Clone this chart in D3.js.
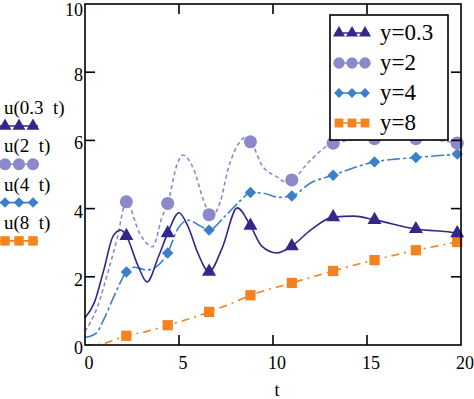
<!DOCTYPE html>
<html lang="en">
<head>
    <meta charset="UTF-8">
    <title>u(y, t)</title>
    <style>
        body { margin: 0; background: #fff; }
        svg text { font-family: "Liberation Serif", "Times New Roman", Tinos, "Nimbus Roman", "Noto Serif", "DejaVu Serif", FreeSerif, serif; }
    </style>
    <script src="https://d3js.org/d3.v7.min.js"></script>
</head>
<body>
    <svg width="474" height="399"></svg>
    <script>
        // values
        const xTicks = [0, 5, 10, 15, 20];
        const yTicks = [0, 2, 4, 6, 8, 10];
        const markerT = [2.2, 4.4, 6.6, 8.8, 11, 13.2, 15.4, 17.6, 19.8];

        const u03Line = [[0, 0.8], [0.5, 1.25], [1.0, 2.2], [1.5, 3.2], [1.9, 3.37], [2.2, 3.2], [2.8, 2.35], [3.3, 1.85],
            [3.9, 2.58], [4.4, 3.28], [5.0, 3.88], [5.5, 3.45], [6.0, 2.7], [6.6, 2.15], [7.3, 2.85], [8.1, 4.02],
            [8.8, 3.5], [9.4, 2.9], [10.2, 2.7], [11, 2.9], [12, 3.37], [13.2, 3.75], [14.3, 3.78], [15.4, 3.67],
            [17.6, 3.4], [19.8, 3.28], [20, 3.25]];
        const u03Marks = [3.2, 3.28, 2.15, 3.5, 2.9, 3.75, 3.67, 3.4, 3.28];

        const u2Line = [[0, 0.4], [0.65, 1.1], [1.2, 2.1], [1.7, 3.1], [2.2, 4.2], [2.9, 3.28], [3.6, 2.88], [4.1, 3.76],
            [4.4, 4.15], [4.9, 5.3], [5.2, 5.57], [5.8, 5.13], [6.3, 4.25], [6.7, 3.78], [7.2, 4.2], [7.6, 5.13],
            [8.3, 6.0], [8.6, 6.1], [9.5, 5.2], [10.2, 4.93], [10.7, 4.78], [11, 4.84], [12, 5.42], [13.2, 5.92],
            [15.4, 6.05], [17.6, 6.05], [19.8, 5.92], [20, 5.9]];
        const u2Marks = [4.2, 4.15, 3.82, 5.96, 4.84, 5.92, 6.05, 6.05, 5.92];

        const u4Line = [[0, 0.22], [0.6, 0.35], [1.0, 0.75], [1.6, 1.5], [2.2, 2.14], [2.6, 2.28], [3.3, 2.2], [3.8, 2.3],
            [4.4, 2.7], [4.9, 3.37], [5.5, 3.66], [6.1, 3.5], [6.6, 3.37], [7.4, 3.75], [8.3, 4.25], [8.8, 4.47],
            [9.5, 4.45], [10.3, 4.33], [11, 4.37], [12, 4.75], [13.2, 4.98], [14.3, 5.2], [15.4, 5.37], [16.5, 5.45],
            [17.6, 5.5], [18.7, 5.55], [19.8, 5.6], [20, 5.62]];
        const u4Marks = [2.14, 2.7, 3.37, 4.47, 4.37, 4.98, 5.37, 5.5, 5.6];

        const u8Line = [[0, 0], [0.8, 0.02], [1.4, 0.12], [2.2, 0.27], [3.3, 0.4], [4.4, 0.58], [5.5, 0.76], [6.6, 0.97],
            [7.7, 1.2], [8.8, 1.46], [9.9, 1.65], [11, 1.82], [12.1, 2.0], [13.2, 2.17], [14.3, 2.34], [15.4, 2.49],
            [16.5, 2.64], [17.6, 2.78], [18.7, 2.9], [19.8, 3.02], [20, 3.04]];
        const u8Marks = [0.27, 0.58, 0.97, 1.46, 1.82, 2.17, 2.49, 2.78, 3.02];

        const seriesNames = ["u(0.3  t)", "u(2  t)", "u(4  t)", "u(8  t)"];
        const legendNames = ["y=0.3", "y=2", "y=4", "y=8"];

        const series = [
            { line: u03Line, marks: u03Marks, color: "#33288a", dash: null, sym: "tri" },
            { line: u2Line, marks: u2Marks, color: "#8c89cb", dash: "4,3", sym: "circ" },
            { line: u4Line, marks: u4Marks, color: "#3b7fcb", dash: "13,3,3,3", sym: "dia" },
            { line: u8Line, marks: u8Marks, color: "#f4821f", dash: "8,5,2,5", sym: "sq" }
        ];

        const svg = d3.select("svg");
        const pL = 85, pR = 461, pT = 4, pB = 345;

        const x = d3.scaleLinear().domain([0, 20]).range([pL, pR]);
        const y = d3.scaleLinear().domain([0, 10]).range([pB, pT]);

        const symbols = {
            tri: d3.symbol().type(d3.symbolTriangle),
            circ: d3.symbol().type(d3.symbolCircle),
            dia: d3.symbol().type(d3.symbolSquare),
            sq: d3.symbol().type(d3.symbolSquare)
        };
        const symSize = { tri: 85, circ: 135, dia: 65, sq: 105 };

        function drawMark(g, s, cx, cy, scale) {
            const k = scale || 1;
            g.append("path")
                .attr("d", symbols[s.sym].size(symSize[s.sym] * k)())
                .attr("transform", `translate(${cx},${cy})` + (s.sym === "dia" ? " rotate(45)" : ""))
                .attr("fill", s.color);
        }

        const line = d3.line()
            .x(d => x(d[0]))
            .y(d => y(d[1]))
            .curve(d3.curveMonotoneX);

        const plot = svg.append("g");
        series.slice().reverse().forEach(s => {
            plot.append("path")
                .datum(s.line)
                .attr("d", line)
                .attr("fill", "none")
                .attr("stroke", s.color)
                .attr("stroke-width", 1.6)
                .attr("stroke-dasharray", s.dash);
            s.marks.forEach((v, i) => drawMark(plot, s, x(markerT[i]), y(v)));
        });

        // frame and inward ticks
        const axes = svg.append("g").attr("stroke", "#000").attr("stroke-width", 1.6);
        axes.append("rect")
            .attr("x", pL).attr("y", pT)
            .attr("width", pR - pL).attr("height", pB - pT)
            .attr("fill", "none");
        xTicks.slice(1, -1).forEach(t => {
            axes.append("line").attr("x1", x(t)).attr("x2", x(t)).attr("y1", pB).attr("y2", pB - 10);
            axes.append("line").attr("x1", x(t)).attr("x2", x(t)).attr("y1", pT).attr("y2", pT + 10);
        });
        yTicks.slice(1, -1).forEach(t => {
            axes.append("line").attr("x1", pL).attr("x2", pL + 10).attr("y1", y(t)).attr("y2", y(t));
            axes.append("line").attr("x1", pR).attr("x2", pR - 10).attr("y1", y(t)).attr("y2", y(t));
        });

        svg.selectAll(".xl")
            .data(xTicks)
            .enter().append("text")
            .attr("x", d => x(d) + 4)
            .attr("y", 369)
            .attr("text-anchor", "middle")
            .attr("font-size", 18)
            .text(d => d);

        svg.selectAll(".yl")
            .data(yTicks)
            .enter().append("text")
            .attr("x", 83)
            .attr("y", d => Math.max(y(d) + 9, 16))
            .attr("text-anchor", "end")
            .attr("font-size", 18)
            .text(d => d);

        svg.append("text")
            .attr("x", 277).attr("y", 396)
            .attr("text-anchor", "middle")
            .attr("font-size", 18)
            .text("t");

        // left side labels
        const side = svg.append("g");
        seriesNames.forEach((name, i) => {
            const s = series[i];
            const ty = 114 + i * 38.3;
            side.append("text")
                .attr("x", 4).attr("y", ty)
                .attr("font-size", 19)
                .style("white-space", "pre")
                .text(name);
            const my = ty + 12;
            side.append("line")
                .attr("x1", 0).attr("x2", 38).attr("y1", my).attr("y2", my)
                .attr("stroke", s.color).attr("stroke-width", 1.6);
            [5, 19, 33].forEach(mx => drawMark(side, s, mx, my, 0.85));
        });

        // legend box
        const lg = svg.append("g");
        lg.append("rect")
            .attr("x", 330).attr("y", 15)
            .attr("width", 118).attr("height", 125)
            .attr("fill", "#fff")
            .attr("stroke", "#000")
            .attr("stroke-width", 1.6);
        legendNames.forEach((name, i) => {
            const s = series[i];
            const ly = 33 + i * 30;
            lg.append("line")
                .attr("x1", 335).attr("x2", 369).attr("y1", ly).attr("y2", ly)
                .attr("stroke", s.color).attr("stroke-width", 1.6);
            [339, 352, 365].forEach(mx => drawMark(lg, s, mx, ly, 0.75));
            lg.append("text")
                .attr("x", 380).attr("y", ly + 7)
                .attr("font-size", 23)
                .text(name);
        });
    </script>
</body>
</html>
